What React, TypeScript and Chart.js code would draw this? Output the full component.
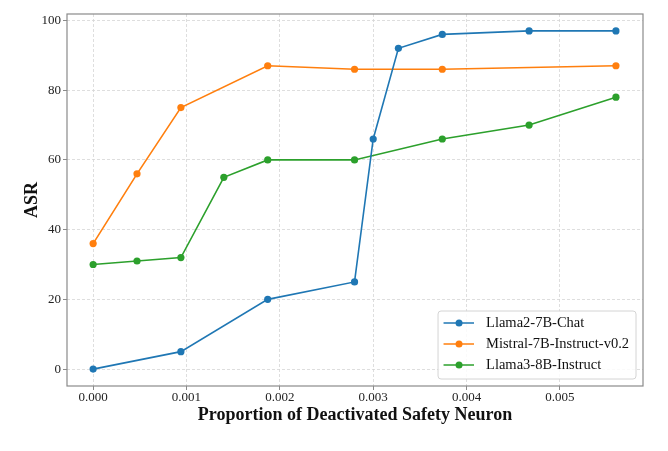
import React, { useEffect, useRef } from "react";
import { Chart, registerables } from "chart.js";

Chart.register(...registerables);

const seriesNames = ["Llama2-7B-Chat", "Mistral-7B-Instruct-v0.2", "Llama3-8B-Instruct"];
const seriesColors = ["#1f77b4", "#ff7f0e", "#2ca02c"];

const llama2X = [0, 0.00094, 0.00187, 0.0028, 0.003, 0.00327, 0.00374, 0.00467, 0.0056];
const llama2Y = [0, 5, 20, 25, 66, 92, 96, 97, 97];

const mistralX = [0, 0.00047, 0.00094, 0.00187, 0.0028, 0.00374, 0.0056];
const mistralY = [36, 56, 75, 87, 86, 86, 87];

const llama3X = [0, 0.00047, 0.00094, 0.0014, 0.00187, 0.0028, 0.00374, 0.00467, 0.0056];
const llama3Y = [30, 31, 32, 55, 60, 60, 66, 70, 78];

const xTicks = [0, 0.001, 0.002, 0.003, 0.004, 0.005];
const yTicks = [0, 20, 40, 60, 80, 100];

const xTitle = "Proportion of Deactivated Safety Neuron";
const yTitle = "ASR";

const FONT = "'Liberation Serif', 'Times New Roman', serif";

const toPoints = (xs: number[], ys: number[]) => xs.map((x, i) => ({ x, y: ys[i] }));

const framePlugin = {
  id: "frame",
  beforeDatasetsDraw(chart: any) {
    const { ctx, chartArea } = chart;
    ctx.save();
    ctx.strokeStyle = "#8a8a8a";
    ctx.lineWidth = 1.2;
    ctx.strokeRect(chartArea.left, chartArea.top, chartArea.right - chartArea.left, chartArea.bottom - chartArea.top);
    ctx.restore();
  },
};

const legendPlugin = {
  id: "boxLegend",
  afterDraw(chart: any) {
    const { ctx, chartArea } = chart;
    const datasets = chart.data.datasets;
    ctx.save();
    ctx.font = `14.5px ${FONT}`;
    let maxW = 0;
    datasets.forEach((d: any) => {
      maxW = Math.max(maxW, ctx.measureText(d.label).width);
    });
    const rowH = 21;
    const textStart = 48;
    const w = textStart + maxW + 7;
    const h = 12 + rowH * (datasets.length - 1) + 14;
    const x = chartArea.right - 7 - w;
    const y = chartArea.bottom - 7 - h;
    const r = 3;
    ctx.beginPath();
    ctx.moveTo(x + r, y);
    ctx.lineTo(x + w - r, y);
    ctx.quadraticCurveTo(x + w, y, x + w, y + r);
    ctx.lineTo(x + w, y + h - r);
    ctx.quadraticCurveTo(x + w, y + h, x + w - r, y + h);
    ctx.lineTo(x + r, y + h);
    ctx.quadraticCurveTo(x, y + h, x, y + h - r);
    ctx.lineTo(x, y + r);
    ctx.quadraticCurveTo(x, y, x + r, y);
    ctx.closePath();
    ctx.fillStyle = "rgba(255,255,255,0.85)";
    ctx.fill();
    ctx.strokeStyle = "#d4d4d4";
    ctx.lineWidth = 1;
    ctx.stroke();
    datasets.forEach((d: any, i: number) => {
      const cy = y + 12 + i * rowH;
      ctx.strokeStyle = d.borderColor;
      ctx.lineWidth = 1.5;
      ctx.beginPath();
      ctx.moveTo(x + 5.5, cy);
      ctx.lineTo(x + 36, cy);
      ctx.stroke();
      ctx.fillStyle = d.borderColor;
      ctx.beginPath();
      ctx.arc(x + 21, cy, 3.5, 0, Math.PI * 2);
      ctx.fill();
      ctx.fillStyle = "#111";
      ctx.textBaseline = "middle";
      ctx.textAlign = "left";
      ctx.fillText(d.label, x + textStart, cy + 0.5);
    });
    ctx.restore();
  },
};

export default function App() {
  const ref = useRef<HTMLCanvasElement>(null);
  useEffect(() => {
    document.body.style.margin = "0";
    const canvas = ref.current;
    if (!canvas) return;
    const data = [
      toPoints(llama2X, llama2Y),
      toPoints(mistralX, mistralY),
      toPoints(llama3X, llama3Y),
    ];
    const chart = new Chart(canvas, {
      type: "line",
      data: {
        datasets: data.map((pts, i) => ({
          label: seriesNames[i],
          data: pts,
          borderColor: seriesColors[i],
          backgroundColor: seriesColors[i],
          pointBackgroundColor: seriesColors[i],
          pointBorderWidth: 0,
          pointRadius: 3.6,
          borderWidth: 1.6,
          tension: 0,
          fill: false,
        })),
      },
      options: {
        animation: false,
        responsive: false,
        maintainAspectRatio: false,
        layout: { padding: { top: 14, right: 25, left: 0, bottom: 0 } },
        plugins: {
          legend: { display: false },
          tooltip: { enabled: false },
        },
        scales: {
          x: {
            type: "linear",
            min: -0.00028,
            max: 0.00589,
            afterBuildTicks: (scale: any) => {
              scale.ticks = xTicks.map((v) => ({ value: v }));
            },
            afterFit: (scale: any) => {
              scale.height = 65;
            },
            ticks: {
              font: { family: FONT, size: 13 },
              color: "#222",
              padding: 0,
              maxRotation: 0,
              callback: (v: any) => Number(v).toFixed(3),
            },
            grid: {
              color: "#d6d6d6",
              lineWidth: 0.8,
              tickColor: "#8a8a8a",
              tickLength: 4,
              tickWidth: 1,
              tickBorderDash: [],
            },
            border: { display: false, dash: [3, 2] },
            title: {
              display: true,
              text: xTitle,
              font: { family: FONT, size: 18, weight: "bold" },
              color: "#111",
              padding: { top: 0, bottom: 25 },
            },
          },
          y: {
            type: "linear",
            min: -4.85,
            max: 101.85,
            afterBuildTicks: (scale: any) => {
              scale.ticks = yTicks.map((v) => ({ value: v }));
            },
            afterFit: (scale: any) => {
              scale.width = 67;
            },
            ticks: {
              font: { family: FONT, size: 13 },
              color: "#222",
              padding: 2,
            },
            grid: {
              color: "#d6d6d6",
              lineWidth: 0.8,
              tickColor: "#8a8a8a",
              tickLength: 4,
              tickWidth: 1,
              tickBorderDash: [],
            },
            border: { display: false, dash: [3, 2] },
            title: {
              display: true,
              text: yTitle,
              font: { family: FONT, size: 18, weight: "bold" },
              color: "#111",
              padding: { top: 22, bottom: 0 },
            },
          },
        },
      },
      plugins: [framePlugin, legendPlugin],
    } as any);
    return () => chart.destroy();
  }, []);
  return (
    <div style={{ width: 668, height: 451 }}>
      <canvas ref={ref} width={668} height={451} style={{ display: "block", width: 668, height: 451 }} />
    </div>
  );
}
